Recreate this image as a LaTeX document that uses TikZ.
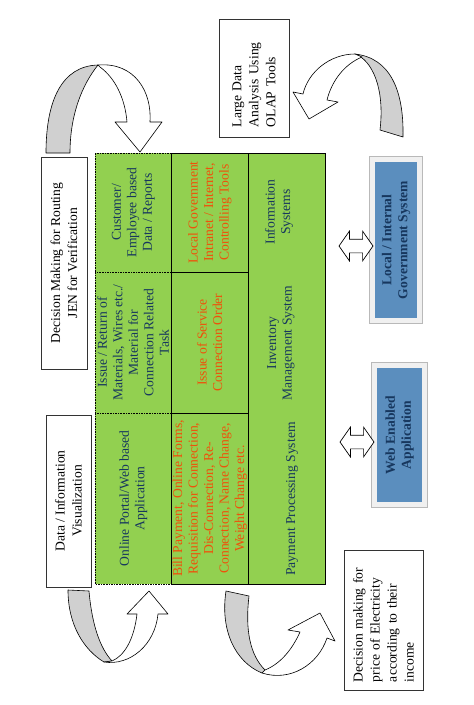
\documentclass[tikz,border=0pt]{standalone}
\usepackage{fontspec}
\setmainfont{Liberation Serif}
\usepackage{tikz}
\usetikzlibrary{shapes.arrows}
\usepackage{xcolor}

\definecolor{cellgreen}{RGB}{146,208,80}
\definecolor{navytext}{RGB}{23,55,94}
\definecolor{orangetext}{RGB}{240,80,10}
\definecolor{boxblue}{RGB}{91,142,190}
\definecolor{ribbongray}{RGB}{208,208,208}

\begin{document}
\begin{tikzpicture}
	[x=1pt, y=-1pt, line width=0.6,
	txt/.style = {
		font=\fontsize{13.6}{15.5}\selectfont,
		rotate=90, align=center
	},
	cell/.style = {
		txt, draw, line width=0.8, fill=cellgreen, inner sep=0
	},
	dashcell/.style = {
		cell, dash pattern=on 1.6pt off 1pt
	},
	textbox/.style = {
		txt, font=\fontsize{13.6}{17}\selectfont,
		draw=black!80, line width=0.8, fill=white
	},
	bluebox/.style = {
		txt, font=\fontsize{13.6}{16}\selectfont\bfseries,
		text=navytext, fill=boxblue,
		preaction={draw=gray!55, line width=12},
		preaction={draw=gray!12, line width=10}
	},
	dblarrow/.style = {
		double arrow, draw, fill=white, line width=0.7,
		inner sep=6.5, minimum height=34, double arrow head extend=8,
		double arrow tip angle=110
	},
	ribbon/.style = {
		draw, line width=0.6, line join=round, fill=ribbongray
	},
	ribbonhead/.style = {
		ribbon, fill=white
	}]
	\useasboundingbox (0,0) rectangle (474,705);
	
	%Draw nodes
	\node[dashcell, text=navytext, minimum width=119, minimum height=76.5] at (133.25,212.5) (cust) {Customer/\\Employee based\\Data / Reports};
	\node[dashcell, text=navytext, minimum width=141, minimum height=76.5] at (133.25,342.5) (material) {Issue / Return of\\Materials, Wires etc./\\Material for\\Connection Related\\Task};
	\node[dashcell, text=navytext, minimum width=171, minimum height=76.5] at (133.25,498.5) (portal) {Online Portal/Web based\\Application};
	
	\node[cell, text=orangetext, minimum width=119, minimum height=76.5] at (209.75,212.5) (intranet) {Local Government\\Intranet / Internet,\\Controlling Tools};
	\node[cell, text=orangetext, minimum width=141, minimum height=76.5] at (209.75,342.5) (order) {Issue of Service\\Connection Order};
	\node[cell, text=orangetext, minimum width=171, minimum height=76.5] at (209.75,498.5) (billing) {Bill Payment, Online Forms,\\Requisition for Connection,\\Dis-Connection, Re-\\Connection, Name Change,\\Weight Change etc.};
	
	\node[cell, minimum width=431, minimum height=77] at (286.5,368.5) (infocol) {};
	\node[txt, text=navytext] at (279,212) (infosys) {Information\\Systems};
	\node[txt, text=navytext] at (281,343) (invsys) {Inventory\\Management System};
	\node[txt, text=navytext] at (292,499) (paysys) {Payment Processing System};
	
	\node[textbox, minimum width=212, minimum height=46] at (64,263) (routing) {Decision Making for Routing\\JEN for Verification};
	\node[textbox, minimum width=172, minimum height=45] at (68.5,501) (visual) {Data / Information\\Visualization};
	\node[textbox, align=left, text width=98, minimum width=118, minimum height=70] at (254,78) (olap) {Large Data\\Analysis Using\\OLAP Tools};
	\node[textbox, align=left, text width=124, minimum width=140, minimum height=79] at (383.5,620) (price) {Decision making for\\price of Electricity\\according to their\\income};
	
	\node[bluebox, minimum width=156, minimum height=42] at (396,240) (govsys) {Local / Internal\\Government System};
	\node[bluebox, minimum width=134, minimum height=45] at (399.5,435) (websys) {Web Enabled\\Application};
	
	%Draw links
	\node[dblarrow] at (356,246) (link1) {};
	\node[dblarrow] at (357,442) (link2) {};
	
	%curved arrows, gray back first
	\draw[ribbon] (46,153) .. controls (46,100) and (62,66) .. (98,65)
	.. controls (82,85) and (70,115) .. (70,153) -- cycle;
	\draw[ribbonhead] (98,65) .. controls (135,62) and (152,92) .. (150,122)
	-- (162,122) -- (140,152) -- (115,122) -- (127,122)
	.. controls (125,98) and (115,78) .. (100,67) -- cycle;
	
	\draw[ribbon] (380,130) -- (403,137) .. controls (404,90) and (390,58) .. (355,54)
	.. controls (372,60) and (385,88) .. (380,130) -- cycle;
	\draw[ribbonhead] (355,54) .. controls (330,54) and (308,72) .. (303,94)
	-- (293,92) -- (309,119) -- (338,102) -- (327,100)
	.. controls (332,80) and (345,64) .. (362,57) -- cycle;
	
	\draw[ribbon] (68,590) -- (89,591) .. controls (92,625) and (100,648) .. (112,661)
	-- (104,662) .. controls (84,650) and (68,625) .. (68,590) -- cycle;
	\draw[ribbonhead] (104,662) .. controls (130,666) and (155,645) .. (158,614)
	-- (168,614) -- (149,591) -- (127,614) -- (137,614)
	.. controls (134,640) and (124,656) .. (112,661) -- cycle;
	
	\draw[ribbon] (226,591) -- (249,596) .. controls (245,630) and (250,655) .. (265,670)
	-- (262,673) .. controls (235,662) and (220,630) .. (226,591) -- cycle;
	\draw[ribbonhead] (262,673) .. controls (290,682) and (318,665) .. (327,638)
	-- (335,641) -- (320,613) -- (288,630) -- (300,632)
	.. controls (292,650) and (280,664) .. (265,670) -- cycle;
	
\end{tikzpicture}
\end{document}
